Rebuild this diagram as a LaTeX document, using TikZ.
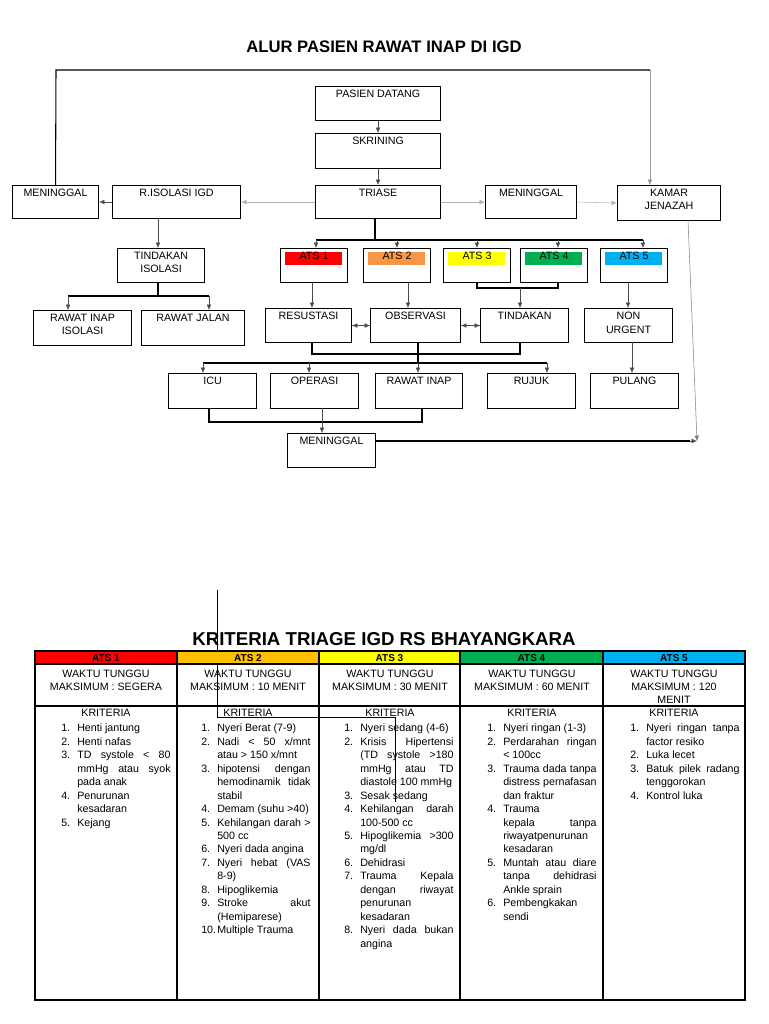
\documentclass[tikz,border=0pt]{standalone}
\usepackage{fontspec}
\setmainfont{Liberation Sans}
\usetikzlibrary{arrows.meta}
\definecolor{cR}{HTML}{FF0000}\definecolor{cO}{HTML}{FFC000}\definecolor{cY}{HTML}{FFFF00}
\definecolor{cG}{HTML}{00B050}\definecolor{cB}{HTML}{00B0F0}\definecolor{cO2}{HTML}{F79646}
\newcommand\bx[6]{\node[boxn,minimum width={(#4-#2)*0.75pt},minimum height={(#5-#3)*0.75pt}] (#1) at (#2,#3) {};
 \node[boxt] at (#1.north) {#6};}
\newcommand\itm[2]{\par\hyphenpenalty=10000\exhyphenpenalty=10000\hangindent=12pt\hangafter=1\noindent\makebox[12pt][l]{#1.}#2}
\tikzset{boxn/.style={draw,thick,anchor=north west,inner sep=0pt},
 boxt/.style={anchor=north,align=center,font=\fontsize{8}{10}\selectfont,inner sep=3pt},
 arr/.style={-{Latex[length=4pt,width=3.5pt]},draw=black!70},
 ln/.style={draw=black,thick},
 hd/.style={font=\fontsize{7.5}{8}\selectfont\bfseries,anchor=center},
 wt/.style={font=\fontsize{8}{10}\selectfont,align=center,anchor=north},
 cr/.style={font=\fontsize{8}{10.1}\selectfont,anchor=north west,text width=82pt,align=justify,inner sep=0pt}}
\begin{document}
\begin{tikzpicture}[x=0.75pt,y=-0.75pt]
\useasboundingbox (0,0) rectangle (768,1024);
\node[font=\fontsize{12.5}{14}\selectfont\bfseries] (t1) at (384,47) {ALUR PASIEN RAWAT INAP DI IGD};
\bx{pd}{315}{86}{440}{120}{PASIEN DATANG}
\bx{sk}{315}{133}{440}{168}{SKRINING}
\bx{tr}{315}{185}{440}{218}{TRIASE}
\bx{m1}{12}{185}{98}{218}{MENINGGAL}
\bx{ri}{112}{185}{240}{218}{R.ISOLASI IGD}
\bx{m2}{485}{185}{576}{218}{MENINGGAL}
\bx{kj}{617}{185}{720}{220}{KAMAR\\JENAZAH}
\bx{ti}{117}{248}{204}{282}{TINDAKAN\\ISOLASI}
\bx{rii}{33}{310}{131}{345}{RAWAT INAP\\ISOLASI}
\bx{rj}{141}{310}{244}{345}{RAWAT JALAN}
\foreach \n/\x/\c in {a1/280/cR,a2/363/cO2,a3/443/cY,a4/520/cG,a5/600/cB}{
 \node[boxn,minimum width={67*0.75pt},minimum height={34*0.75pt}] (\n) at (\x,248) {};
 \fill[\c] (\x+5,252) rectangle (\x+62,265);}
\foreach \n/\t in {a1/ATS 1,a2/ATS 2,a3/ATS 3,a4/ATS 4,a5/ATS 5}{\node[boxt] at (\n.north) {\t};}
\bx{re}{265}{308}{351}{342}{RESUSTASI}
\bx{ob}{370}{308}{460}{342}{OBSERVASI}
\bx{td}{480}{308}{568}{342}{TINDAKAN}
\bx{nu}{584}{308}{672}{342}{NON\\URGENT}
\bx{icu}{168}{373}{256}{408}{ICU}
\bx{op}{270}{373}{358}{408}{OPERASI}
\bx{rin}{375}{373}{462}{408}{RAWAT INAP}
\bx{ru}{487}{373}{575}{408}{RUJUK}
\bx{pu}{590}{373}{678}{408}{PULANG}
\bx{m3}{287}{433}{375}{467}{MENINGGAL}
% connectors
\draw[arr] (pd.south) -- (sk.north);
\draw[arr] (sk.south) -- (tr.north);
\draw[arr,draw=black!30] (tr.west) -- (ri.east);
\draw[arr] (ri.west) -- (m1.east);
\draw[arr,draw=black!30] (tr.east) -- (m2.west);
\draw[arr,draw=black!30] (m2.east) -- (kj.west);
\draw[ln] (m1.north) -- (56,70) -- (650,70);
\draw[arr,draw=black!40] (650,70) -- (650,185);
\draw[arr] (158,218) -- (158,248);
\draw[ln] (158,282) -- (158,296);
\draw[ln] (68,296) -- (209,296);
\draw[arr] (68,296) -- (68,310);
\draw[arr] (209,296) -- (209,310);
\draw[ln] (375,218) -- (375,240);
\draw[ln] (316,240) -- (643,240);
\foreach \x/\n in {316/a1,397/a2,477/a3,558/a4,643/a5}{\draw[arr] (\x,240) -- (\x,248);}
\draw[ln] (477,282) -- (477,288) -- (558,288) -- (558,282);
\draw[arr] (520,288) -- (520,308);
\draw[arr] (312,282) -- (312,308);
\draw[arr] (408,282) -- (408,308);
\draw[arr] (628,282) -- (628,308);
\draw[arr] (re.east) -- (ob.west);
\draw[arr] (ob.west) -- (re.east);
\draw[arr] (ob.east) -- (td.west);
\draw[arr] (td.west) -- (ob.east);
\draw[ln] (312,342) -- (312,354) -- (520,354) -- (520,342);
\draw[ln] (418,342) -- (418,363);
\draw[ln] (203,363) -- (547,363);
\foreach \x in {203,309,418,547}{\draw[arr] (\x,363) -- (\x,373);}
\draw[arr] (632,342) -- (632,373);
\draw[ln] (209,408) -- (209,422) -- (422,422) -- (422,408);
\draw[arr] (322,408) -- (322,433);
\draw[ln] (m3.east |- 0,441) -- (690,441);
\draw[arr] (690,441) -- (697,441);
\draw[arr,draw=black!50] (688,220) -- (697,441);
% stray lines
\draw[ln,thin] (217,590) -- (217,717) -- (395,717) -- (395,802);
% table
\node[font=\fontsize{14}{16}\selectfont\bfseries] (t2) at (384,639) {KRITERIA TRIAGE IGD RS BHAYANGKARA};
\foreach \a/\b/\c/\t in {35/177/cR/ATS 1,177/319/cO/ATS 2,319/460/cY/ATS 3,460/603/cG/ATS 4,603/745/cB/ATS 5}{
 \fill[\c] (\a,651) rectangle (\b,664);
 \node[hd] at ({(\a+\b)/2},658) {\t};}
\draw[thick] (35,651) rectangle (745,1000);
\draw[thick] (35,664) -- (745,664);
\draw[thick] (35,706) -- (745,706);
\foreach \x in {177,319,460,603}{\draw[thick] (\x,651) -- (\x,1000);}
\node[wt] at (106,665) {WAKTU TUNGGU\\MAKSIMUM : SEGERA};
\node[wt] at (248,665) {WAKTU TUNGGU\\MAKSIMUM : 10 MENIT};
\node[wt] at (390,665) {WAKTU TUNGGU\\MAKSIMUM : 30 MENIT};
\node[wt] at (532,665) {WAKTU TUNGGU\\MAKSIMUM : 60 MENIT};
\node[wt] at (674,665) {WAKTU TUNGGU\\MAKSIMUM : 120\\MENIT};
\foreach \x in {106,248,390,532,674}{\node[wt] at (\x,704) {KRITERIA};}
\node[cr] (c1) at (61,718) {\itm{1}{Henti jantung}\itm{2}{Henti nafas}\itm{3}{TD systole < 80 mmHg atau syok pada anak}\itm{4}{Penurunan kesadaran}\itm{5}{Kejang}\par};
\node[cr] (c2) at (201,718) {\itm{1}{Nyeri Berat (7-9)}\itm{2}{Nadi < 50 x/mnt atau > 150 x/mnt}\itm{3}{hipotensi dengan hemodinamik tidak stabil}\itm{4}{Demam (suhu >40)}\itm{5}{Kehilangan darah > 500 cc}\itm{6}{Nyeri dada angina}\itm{7}{Nyeri hebat (VAS 8-9)}\itm{8}{Hipoglikemia}\itm{9}{Stroke akut (Hemiparese)}\itm{10}{Multiple Trauma}\par};
\node[cr] (c3) at (344,718) {\itm{1}{Nyeri sedang (4-6)}\itm{2}{Krisis Hipertensi (TD systole >180 mmHg atau TD diastole 100 mmHg}\itm{3}{Sesak sedang}\itm{4}{Kehilangan darah 100-500 cc}\itm{5}{Hipoglikemia >300 mg/dl}\itm{6}{Dehidrasi}\itm{7}{Trauma Kepala dengan riwayat penurunan kesadaran}\itm{8}{Nyeri dada bukan angina}\par};
\node[cr] (c4) at (487,718) {\itm{1}{Nyeri ringan (1-3)}\itm{2}{Perdarahan ringan < 100cc}\itm{3}{Trauma dada tanpa distress pernafasan dan fraktur}\itm{4}{Trauma kepala tanpa riwayatpenurunan kesadaran}\itm{5}{Muntah atau diare tanpa dehidrasi Ankle sprain}\itm{6}{Pembengkakan sendi}\par};
\node[cr] (c5) at (630,718) {\itm{1}{Nyeri ringan tanpa factor resiko}\itm{2}{Luka lecet}\itm{3}{Batuk pilek radang tenggorokan}\itm{4}{Kontrol luka}\par};
\end{tikzpicture}
\end{document}
